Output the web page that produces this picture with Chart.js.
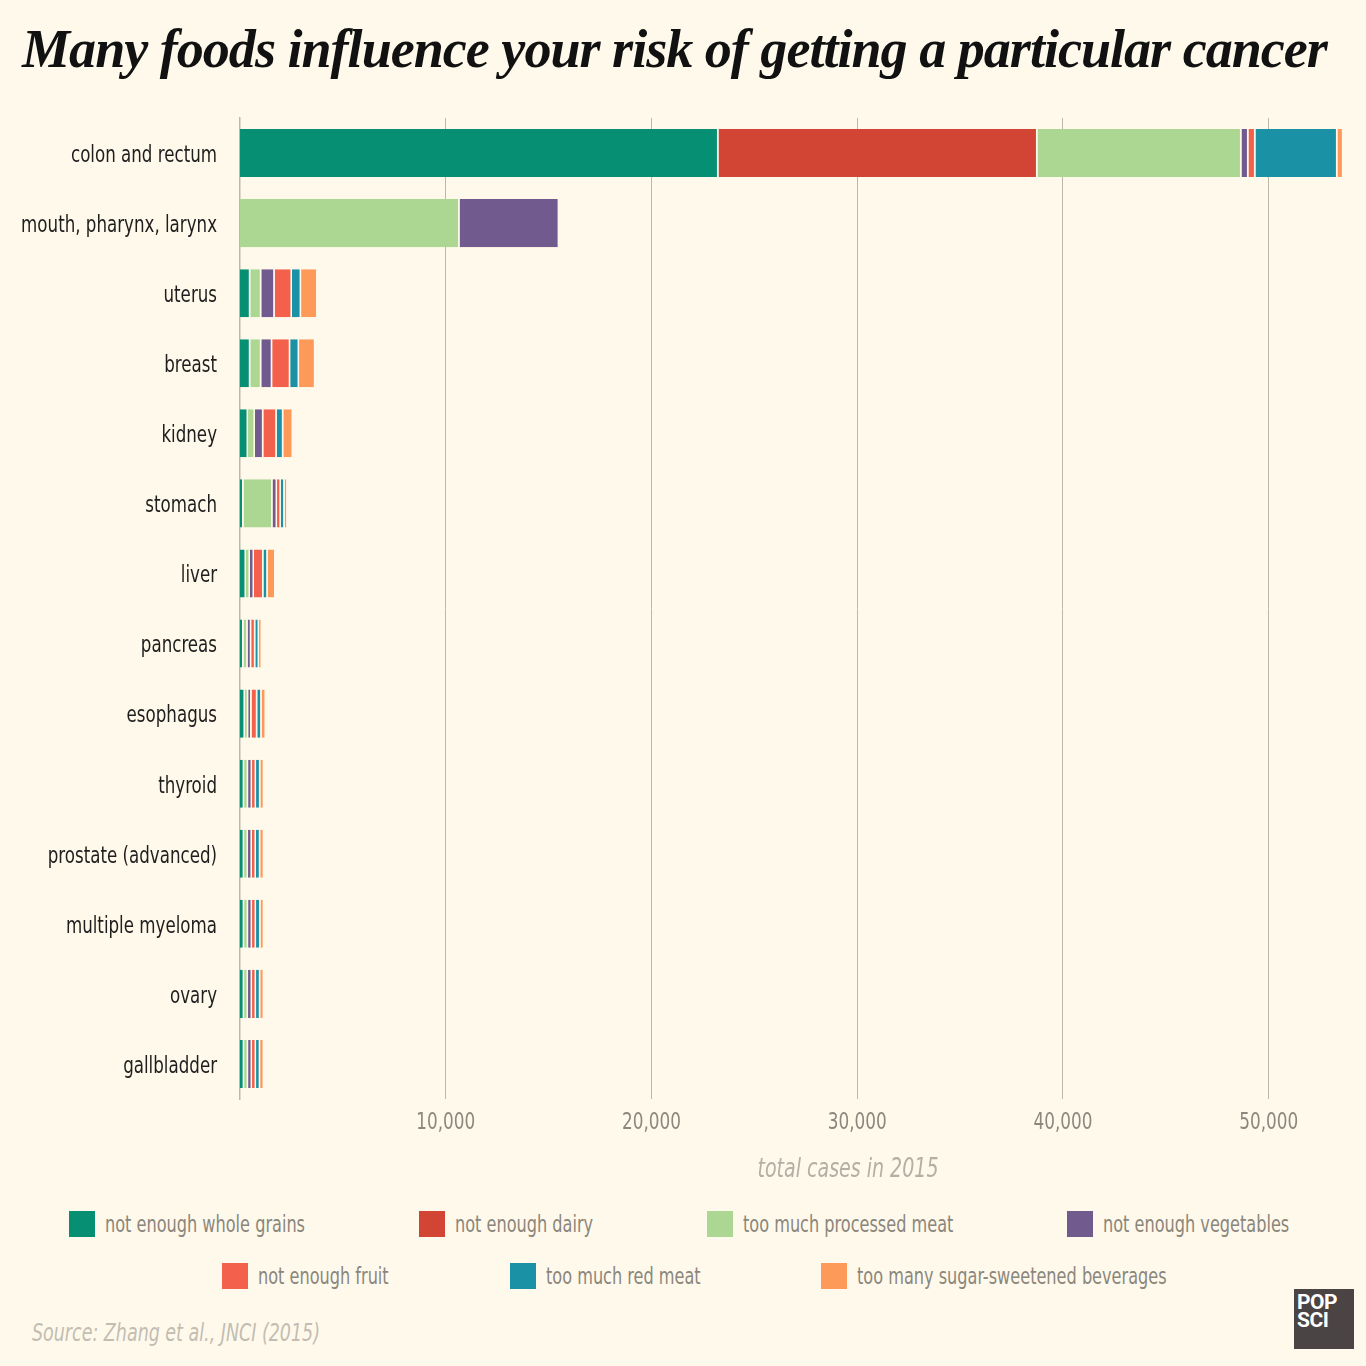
<!DOCTYPE html>
<html><head><meta charset="utf-8">
<script src="https://cdn.jsdelivr.net/npm/chart.js@4.4.1/dist/chart.umd.min.js"></script>
<style>
html,body{margin:0;padding:0;background:#fff9eb;}
#wrap{position:relative;width:1366px;height:1366px;background:#fff9eb;overflow:hidden;}
#title{position:absolute;left:22px;top:18px;font-family:"Liberation Serif",serif;font-weight:bold;font-style:italic;font-size:54px;color:#111;letter-spacing:-1px;white-space:nowrap;}
#chart{position:absolute;left:0;top:0;}
.legrow{position:absolute;display:flex;align-items:center;white-space:nowrap;color:#8b867c;height:26px;}
.item{display:flex;align-items:center;}
.sw{width:26px;height:26px;margin-right:10px;flex:none;}
.tw{display:block;overflow:visible;}
.tx{display:inline-block;transform-origin:0 50%;}
#source{position:absolute;left:32px;top:1318px;font-style:italic;color:#c2bdb2;white-space:nowrap;transform-origin:0 50%;}
#logo{position:absolute;left:1294px;top:1289px;width:60px;height:60px;background:#4a4544;color:#fff;font-family:Roboto,sans-serif;font-weight:bold;font-size:21px;line-height:18px;letter-spacing:-0.5px;padding:4px 0 0 3px;box-sizing:border-box;}
</style></head>
<body>
<div id="wrap">
<div id="title">Many foods influence your risk of getting a particular cancer</div>
<canvas id="chart" width="1366" height="1190" style="width:1366px;height:1190px"></canvas>
<div id="leg1" class="legrow" style="left:69px;top:1211px;"></div>
<div id="leg2" class="legrow" style="left:222px;top:1263px;"></div>
<div id="source">Source: Zhang et al., JNCI (2015)</div>
<div id="logo">POP<br>SCI</div>
</div>
<script>
const BG = '#fff9eb';
const categories = ['colon and rectum','mouth, pharynx, larynx','uterus','breast','kidney','stomach','liver','pancreas','esophagus','thyroid','prostate (advanced)','multiple myeloma','ovary','gallbladder'];
const seriesNames = ['not enough whole grains','not enough dairy','too much processed meat','not enough vegetables','not enough fruit','too much red meat','too many sugar-sweetened beverages'];
const seriesColors = ['#078f73','#d24434','#acd793','#705a8e','#f3604b','#1a91a5','#fd9a5a'];
const wholeGrains   = [23255, 0, 500, 500, 390, 170, 290, 170, 240, 200, 200, 200, 200, 200];
const dairy         = [15505, 0, 0, 0, 0, 0, 0, 0, 0, 0, 0, 0, 0, 0];
const processedMeat = [9915, 10670, 535, 535, 335, 1410, 195, 200, 160, 195, 190, 195, 190, 195];
const vegetables    = [340, 4840, 650, 530, 410, 220, 195, 175, 160, 190, 190, 190, 195, 190];
const fruit         = [340, 0, 840, 875, 650, 185, 460, 200, 280, 195, 195, 195, 195, 195];
const redMeat       = [3985, 0, 445, 430, 320, 185, 205, 180, 210, 210, 210, 215, 205, 200];
const sugaryDrinks  = [290, 0, 800, 790, 470, 145, 380, 145, 210, 185, 190, 180, 185, 190];
const seriesValues = [wholeGrains, dairy, processedMeat, vegetables, fruit, redMeat, sugaryDrinks];
const xTickValues = [10000, 20000, 30000, 40000, 50000];
const xMax = 54000;
const axisTitle = 'total cases in 2015';

const NARROW = "'Liberation Sans Narrow','Arial Narrow','DejaVu Sans Condensed','Roboto Condensed',Roboto,sans-serif";
const mctx = document.createElement('canvas').getContext('2d');
function squash(text, size, target, style) {
  mctx.font = (style || '') + ' ' + size + 'px ' + NARROW;
  return Math.min(1, target / mctx.measureText(text).width);
}
const CAT = {size: 22.5, sx: squash('colon and rectum', 22.5, 146), color: '#1e1e1e', style: ''};
const TICK = {size: 22.5, sx: squash('10,000', 22.5, 59), color: '#8c877d', style: ''};
const AXT = {size: 26, sx: squash(axisTitle, 26, 181, 'italic'), color: '#b4afa4', style: 'italic'};
const LEG = {size: 22.5, sx: squash('not enough whole grains', 22.5, 200)};
const SRC = {size: 25, sx: squash('Source: Zhang et al., JNCI (2015)', 25, 288, 'italic')};

(function(){
  const t = document.getElementById('title');
  const w = t.getBoundingClientRect().width;
  t.style.fontSize = (54 * 1305 / w).toFixed(1) + 'px';
})();

const src = document.getElementById('source');
src.style.fontFamily = NARROW; src.style.fontSize = SRC.size + 'px';
src.style.transform = 'scaleX(' + SRC.sx + ')';

const legendRows = [[0,1,2,3],[4,5,6]];
const rowGaps = [114, 121];
legendRows.forEach((row, r) => {
  const el = document.getElementById('leg' + (r + 1));
  el.style.gap = rowGaps[r] + 'px';
  el.style.fontFamily = NARROW; el.style.fontSize = LEG.size + 'px';
  row.forEach(i => {
    const it = document.createElement('div'); it.className = 'item';
    const sw = document.createElement('div'); sw.className = 'sw'; sw.style.background = seriesColors[i];
    const tw = document.createElement('div'); tw.className = 'tw';
    const tx = document.createElement('span'); tx.className = 'tx'; tx.textContent = seriesNames[i];
    tx.style.transform = 'scaleX(' + LEG.sx + ')';
    tw.appendChild(tx); it.appendChild(sw); it.appendChild(tw); el.appendChild(it);
    tw.style.width = (tx.offsetWidth * LEG.sx).toFixed(1) + 'px';
  });
});

function drawText(ctx, text, x, y, role, align) {
  ctx.save();
  ctx.font = role.style + ' ' + role.size + 'px ' + NARROW;
  ctx.fillStyle = role.color;
  ctx.textBaseline = 'middle';
  ctx.textAlign = align;
  ctx.translate(x, y);
  ctx.scale(role.sx, 1);
  ctx.fillText(text, 0, 0);
  ctx.restore();
}

const labelPlugin = {
  id: 'squashedLabels',
  afterDraw(chart) {
    const {ctx, scales: {x, y}} = chart;
    chart.data.labels.forEach((lab, i) => drawText(ctx, lab, y.right - 23, y.getPixelForTick(i) + 3, CAT, 'right'));
    x.ticks.forEach(t => drawText(ctx, Number(t.value).toLocaleString('en-US'), x.getPixelForValue(t.value), x.top + 24, TICK, 'center'));
    drawText(ctx, axisTitle, 848, x.top + 71, AXT, 'center');
  }
};

const gridColor = '#bdb8ac';
new Chart(document.getElementById('chart'), {
  type: 'bar',
  data: {
    labels: categories,
    datasets: seriesNames.map((n, i) => ({
      label: n, data: seriesValues[i], backgroundColor: seriesColors[i],
      borderColor: BG, borderWidth: {top: 0, bottom: 0, left: 0, right: 1.5}, borderSkipped: false,
      categoryPercentage: 1, barPercentage: 0.686
    }))
  },
  plugins: [labelPlugin],
  options: {
    indexAxis: 'y', responsive: false, animation: false, devicePixelRatio: 1,
    layout: {padding: {top: 118, right: 15, left: 0, bottom: 0}},
    plugins: {legend: {display: false}, tooltip: {enabled: false}},
    scales: {
      x: {
        stacked: true, min: 0, max: xMax,
        afterFit: s => { s.height = 91; },
        afterBuildTicks: s => { s.ticks = xTickValues.map(v => ({value: v})); },
        grid: {color: gridColor, lineWidth: 1, drawTicks: false},
        border: {display: false},
        ticks: {display: false}
      },
      y: {
        stacked: true,
        afterFit: s => { s.width = 240; },
        grid: {display: false},
        border: {display: true, color: gridColor, width: 1.5},
        ticks: {display: false}
      }
    }
  }
});
</script>
</body></html>
